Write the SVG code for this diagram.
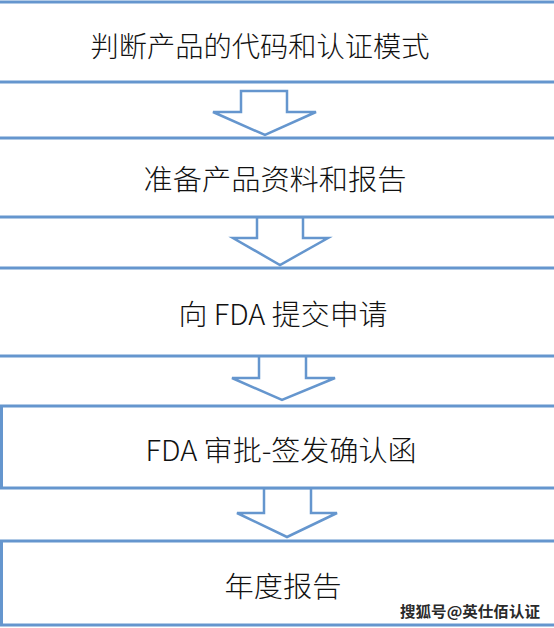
<svg xmlns="http://www.w3.org/2000/svg" width="554" height="628" viewBox="0 0 554 628">
<style>
.box{fill:#ffffff;stroke:#6596ce;stroke-width:3}
.arr{fill:#ffffff;stroke:#6596ce;stroke-width:2.5;stroke-linejoin:miter}
.t{font-family:"Noto Sans CJK SC","Liberation Sans",sans-serif;font-size:28px;font-weight:300;fill:#111111;text-anchor:middle;dominant-baseline:central}
.wm{font-family:"Noto Sans CJK SC",sans-serif;font-size:15px;font-weight:bold;fill:#2a2a2a;stroke:#ffffff;stroke-width:2;paint-order:stroke;text-anchor:middle;dominant-baseline:central}
</style>
<rect width="554" height="628" fill="#ffffff"/>
<g id="connectors">
<path class="arr" d="M241,91 H287 V112 H316 L265,135 L213,112 H241 Z"/>
<path class="arr" d="M257,217 H303 V238 H328 L280,265 L233,238 H257 Z"/>
<path class="arr" d="M259,355 H306 V378 H335 L282,400 L232,378 H259 Z"/>
<path class="arr" d="M264,488 H311 V513 H337 L287,537 L237,513 H264 Z"/>
</g>
<g id="n1">
<rect class="box" x="-5" y="2" width="564" height="80"/>
<text class="t" x="260" y="45" textLength="339" lengthAdjust="spacingAndGlyphs">判断产品的代码和认证模式</text>
</g>
<g id="n2">
<rect class="box" x="-5" y="138" width="564" height="79"/>
<text class="t" x="275" y="178" textLength="263" lengthAdjust="spacingAndGlyphs">准备产品资料和报告</text>
</g>
<g id="n3">
<rect class="box" x="-5" y="268" width="564" height="88"/>
<text class="t" x="283" y="313" textLength="209" lengthAdjust="spacingAndGlyphs">向 FDA 提交申请</text>
</g>
<g id="n4">
<rect class="box" x="1.5" y="406" width="564" height="82"/>
<text class="t" x="281" y="449" textLength="271" lengthAdjust="spacingAndGlyphs">FDA 审批-签发确认函</text>
</g>
<g id="n5">
<rect class="box" x="1.5" y="541" width="564" height="84"/>
<text class="t" x="283" y="585" textLength="117" lengthAdjust="spacingAndGlyphs">年度报告</text>
</g>
<text class="wm" x="470" y="610" textLength="140" lengthAdjust="spacingAndGlyphs">搜狐号@英仕佰认证</text>
</svg>
